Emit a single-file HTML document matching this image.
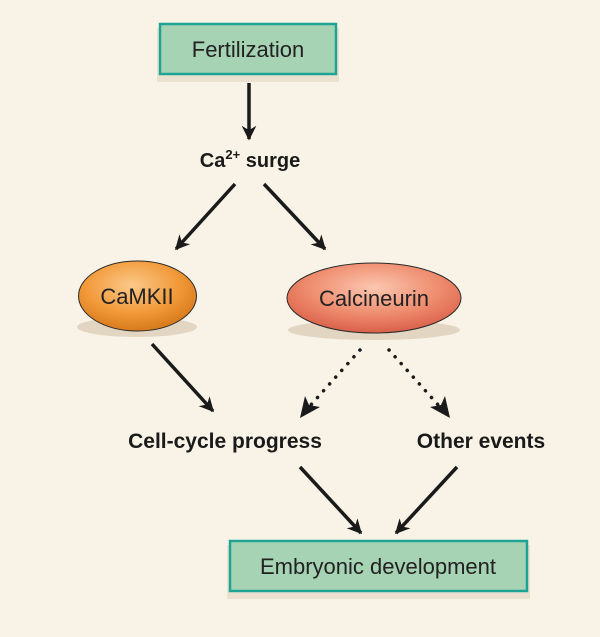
<!DOCTYPE html>
<html><head><meta charset="utf-8"><style>
html,body{margin:0;padding:0;background:#f8f3e6;}
svg{display:block;}
text{font-family:"Liberation Sans",sans-serif;}
</style></head><body>
<svg width="600" height="637" viewBox="0 0 600 637" xmlns="http://www.w3.org/2000/svg">
<defs>
<radialGradient id="og" cx="0.45" cy="0.35" r="0.65">
<stop offset="0" stop-color="#fbc98a"/><stop offset="0.6" stop-color="#f29a3a"/><stop offset="1" stop-color="#d77a1c"/>
</radialGradient>
<radialGradient id="rg" cx="0.5" cy="0.35" r="0.65">
<stop offset="0" stop-color="#fbc7b0"/><stop offset="0.6" stop-color="#ee8a6c"/><stop offset="1" stop-color="#d9604a"/>
</radialGradient>
<marker id="ah" viewBox="0 0 10 10" refX="9" refY="5" markerWidth="4.2" markerHeight="4.2" orient="auto" markerUnits="strokeWidth">
<path d="M0,0 L10,5 L0,10 L3,5 z" fill="#1a1a1a"/>
</marker>
<marker id="ah2" viewBox="0 0 10 10" refX="9" refY="5" markerWidth="6" markerHeight="6" orient="auto" markerUnits="strokeWidth">
<path d="M0,0 L10,5 L0,10 L3,5 z" fill="#1a1a1a"/>
</marker>
</defs>
<rect x="0" y="0" width="600" height="637" fill="#f8f3e6"/>
<!-- shadows -->
<rect x="157" y="28" width="182" height="54" fill="#e6dccb" opacity="0.8"/>
<rect x="227" y="545" width="303" height="54" fill="#e6dccb" opacity="0.8"/>
<ellipse cx="137" cy="327" rx="60" ry="10" fill="#e2d6c2"/>
<ellipse cx="374" cy="330" rx="86" ry="10" fill="#e2d6c2"/>
<!-- boxes -->
<rect x="160" y="24" width="176" height="50" fill="#a6d3b3" stroke="#1ea394" stroke-width="2.5"/>
<text x="248" y="57" font-size="22" text-anchor="middle" fill="#222">Fertilization</text>
<rect x="230" y="541" width="297" height="50" fill="#a6d3b3" stroke="#1ea394" stroke-width="2.5"/>
<text x="378" y="574" font-size="22" text-anchor="middle" fill="#222">Embryonic development</text>
<!-- ellipses -->
<ellipse cx="137.5" cy="296" rx="59" ry="35" fill="url(#og)" stroke="#2a2a2a" stroke-width="1"/>
<text x="137" y="304" font-size="22" text-anchor="middle" fill="#222">CaMKII</text>
<ellipse cx="374" cy="298" rx="87" ry="35" fill="url(#rg)" stroke="#2a2a2a" stroke-width="1"/>
<text x="374" y="306" font-size="22" text-anchor="middle" fill="#222">Calcineurin</text>
<!-- labels -->
<text x="250" y="167" font-size="20" font-weight="bold" text-anchor="middle" fill="#1a1a1a">Ca<tspan font-size="13" dy="-8">2+</tspan><tspan dy="8"> surge</tspan></text>
<text x="225" y="448" font-size="21" font-weight="bold" text-anchor="middle" fill="#1a1a1a">Cell-cycle progress</text>
<text x="481" y="448" font-size="21" font-weight="bold" text-anchor="middle" fill="#1a1a1a">Other events</text>
<!-- arrows -->
<g stroke="#1a1a1a" stroke-width="3.5" fill="none">
<line x1="249" y1="83" x2="249" y2="139" marker-end="url(#ah)"/>
<line x1="235" y1="184" x2="176" y2="249" marker-end="url(#ah)"/>
<line x1="264" y1="184" x2="325" y2="249" marker-end="url(#ah)"/>
<line x1="152" y1="344" x2="213" y2="411" marker-end="url(#ah)"/>
<line x1="300" y1="467" x2="361" y2="533" marker-end="url(#ah)"/>
<line x1="457" y1="467" x2="396" y2="533" marker-end="url(#ah)"/>
</g>
<g stroke="#1a1a1a" stroke-width="3.5" fill="none" stroke-dasharray="0.1 9" stroke-linecap="round">
<line x1="360" y1="350" x2="309" y2="407"/>
<line x1="389" y1="350" x2="440" y2="407"/>
</g>
<g fill="#1a1a1a">
<path d="M300,418 L305,396 L309,405 L320,407 z"/>
<path d="M450,418 L430,407 L441,405 L445,396 z"/>
</g>
</svg>
</body></html>
